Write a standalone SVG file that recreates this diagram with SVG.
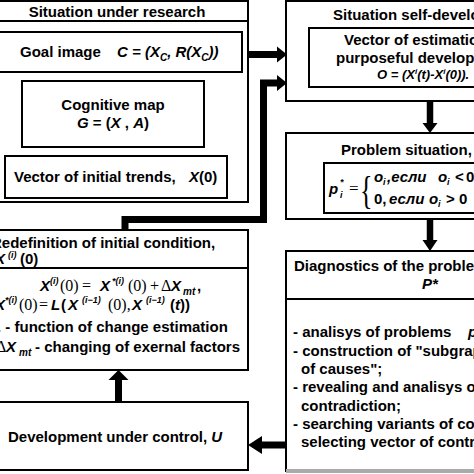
<svg xmlns="http://www.w3.org/2000/svg" width="474" height="474" viewBox="0 0 474 474">
<style>
 .box{fill:#fff;stroke:#000;stroke-width:2}
 .ln{stroke:#000;stroke-width:2;fill:none}
 text{font-family:"Liberation Sans",Arial,sans-serif;font-weight:bold;font-size:15px;fill:#000}
 .it{font-style:italic}
 .ser{font-family:"Liberation Serif","Times New Roman",serif;font-weight:normal;font-style:normal}
 .sm{font-size:9px}
 .conn{stroke:#000;stroke-width:7;fill:none;stroke-linejoin:miter;stroke-linecap:butt}
 .head{fill:#000}
</style>
<rect width="474" height="474" fill="#fff"/>

<g id="research">
 <rect class="box" x="-10" y="1" width="258" height="201"/>
 <line class="ln" x1="-10" y1="21" x2="248" y2="21"/>
 <text x="117" y="16.5" text-anchor="middle">Situation under research</text>
</g>
<g id="goal">
 <rect class="box" x="-10" y="32" width="252" height="40"/>
 <text x="20" y="57">Goal image<tspan x="117" class="it">C = (X</tspan><tspan class="it" font-size="10" dy="4">C</tspan><tspan class="it" dy="-4">, R(X</tspan><tspan class="it" font-size="10" dy="4">C</tspan><tspan class="it" dy="-4">))</tspan></text>
</g>
<g id="cogmap">
 <rect class="box" x="22" y="81" width="182" height="66"/>
 <text x="113" y="110" text-anchor="middle">Cognitive map</text>
 <text x="113" y="128" text-anchor="middle"><tspan class="it">G</tspan> = (<tspan class="it">X</tspan> , <tspan class="it">A</tspan>)</text>
</g>
<g id="trends">
 <rect class="box" x="5" y="156" width="222" height="42"/>
 <text x="14" y="182">Vector of initial trends,<tspan x="189" class="it">X</tspan>(0)</text>
</g>

<g id="redefinition">
 <rect class="box" x="-10" y="230" width="258" height="140"/>
 <line class="ln" x1="-10" y1="268" x2="248" y2="268"/>
 <text x="-9" y="248">Redefinition of initial condition,</text>
 <text x="-5" y="264"><tspan class="it">X</tspan><tspan x="8" y="258" class="it sm">(i)</tspan><tspan x="20" y="264">(0)</tspan></text>
 <text y="291"><tspan x="40" class="it">X</tspan><tspan x="50" y="284" class="it sm">(i)</tspan><tspan x="60" y="291" class="ser" font-size="16">(0)</tspan><tspan x="82" class="ser" font-size="16">=</tspan><tspan x="100" class="it">X</tspan><tspan x="112" y="284" class="it sm">*(i)</tspan><tspan x="128" y="291" class="ser" font-size="16">(0)</tspan><tspan x="150" class="ser" font-size="16">+</tspan><tspan x="161" class="ser" font-size="16">Δ</tspan><tspan x="171" class="it">X</tspan><tspan x="183" y="295" class="it" font-size="10">mt</tspan><tspan x="197" y="291">,</tspan></text>
 <text y="310"><tspan x="-5" class="it">X</tspan><tspan x="5" y="303" class="it sm">*(i)</tspan><tspan x="19" y="310" class="ser" font-size="16">(0)</tspan><tspan x="39" class="ser" font-size="16">=</tspan><tspan x="51" class="it">L</tspan><tspan x="61">(</tspan><tspan x="68" class="it">X</tspan><tspan x="82" y="303" class="it sm">(i−1)</tspan><tspan x="108" y="310" class="ser" font-size="16">(0),</tspan><tspan x="132" class="it">X</tspan><tspan x="146" y="303" class="it sm">(i−1)</tspan><tspan x="170" y="310">(<tspan class="it">t</tspan>))</tspan></text>
 <text x="-8" y="332"><tspan class="it">L</tspan> - function of change estimation</text>
 <text y="352"><tspan x="-4" class="ser" font-size="16">Δ</tspan><tspan x="6" class="it">X</tspan><tspan x="19" y="356" class="it" font-size="10">mt</tspan><tspan x="35" y="352">- changing of exernal factors</tspan></text>
</g>

<g id="development">
 <rect class="box" x="-10" y="402" width="258" height="68"/>
 <text x="8" y="442">Development under control, <tspan class="it">U</tspan></text>
</g>

<g id="selfdev">
 <rect class="box" x="286" y="1" width="200" height="100"/>
 <text x="333" y="20">Situation self-development</text>
 <rect class="box" x="309" y="28" width="180" height="59"/>
 <text x="344" y="45">Vector of estimation of</text>
 <text x="336" y="63">purposeful development,</text>
 <text x="377" y="79" class="it" style="font-size:13px">O = (X<tspan font-size="8" dy="-5">i</tspan><tspan dy="5">(t)-X</tspan><tspan font-size="8" dy="-5">i</tspan><tspan dy="5">(0)).</tspan></text>
</g>

<g id="problem">
 <rect class="box" x="286" y="133" width="200" height="86"/>
 <text x="341" y="155">Problem situation,</text>
 <rect class="box" x="324" y="163" width="160" height="50"/>
 <text x="329" y="194" class="it">p</text>
 <text x="340" y="185" class="it sm">*</text>
 <text x="340" y="198" class="it sm">i</text>
 <text x="349" y="194" class="ser" style="font-size:17px">=</text>
 <text x="0" y="0" class="ser" style="font-size:40px" transform="translate(360,204) scale(0.65,1)">{</text>
 <text y="182"><tspan x="374" class="it">o</tspan><tspan x="383" y="185" class="it sm">i</tspan><tspan x="387" y="182" class="it">,если</tspan><tspan x="438" class="it">o</tspan><tspan x="447" y="185" class="it sm">i</tspan><tspan x="455" y="182">&lt;</tspan><tspan x="466">0</tspan></text>
 <text y="204"><tspan x="374">0,</tspan><tspan x="389" class="it">если</tspan><tspan x="429" class="it">o</tspan><tspan x="438" y="207" class="it sm">i</tspan><tspan x="446" y="204">&gt;</tspan><tspan x="459">0</tspan></text>
</g>

<g id="diagnostics">
 <rect x="286" y="251" width="200" height="220" fill="#fff" stroke="#000" stroke-width="2"/>
 <line x1="286" y1="471" x2="474" y2="471" stroke="#aaa" stroke-width="4"/>
 <line class="ln" x1="286" y1="299" x2="486" y2="299"/>
 <text x="294" y="271">Diagnostics of the problem situation</text>
 <text x="422" y="289" class="it">P*</text>
 <text x="293" y="337">- analisys of problems <tspan x="468" class="it">p</tspan></text>
 <text x="293" y="356">- construction of "subgraph</text>
 <text x="301" y="374">of causes";</text>
 <text x="293" y="392">- revealing and analisys of</text>
 <text x="301" y="411">contradiction;</text>
 <text x="293" y="429">- searching variants of control</text>
 <text x="301" y="447">selecting vector of control</text>
</g>

<g id="connectors">
 <line class="conn" x1="249" y1="54.5" x2="278" y2="54.5"/>
 <polygon class="head" points="277,46.5 287,54.5 277,62.5"/>
 <polyline class="conn" points="125,230 125,219.5 263.5,219.5 263.5,83 278,83"/>
 <polygon class="head" points="277,75 287,83 277,91"/>
 <line class="conn" style="stroke-width:6.5" x1="430" y1="101" x2="430" y2="124"/>
 <polygon class="head" points="422.5,123 430,133 437.5,123"/>
 <line class="conn" style="stroke-width:6.5" x1="430" y1="220" x2="430" y2="241"/>
 <polygon class="head" points="422.5,240 430,251 437.5,240"/>
 <line class="conn" x1="118.5" y1="402" x2="118.5" y2="379"/>
 <polygon class="head" points="108.5,380 118.5,370 128.5,380"/>
 <line class="conn" x1="286" y1="445" x2="261" y2="445"/>
 <polygon class="head" points="262,436 248,445 262,454"/>
</g>
</svg>
